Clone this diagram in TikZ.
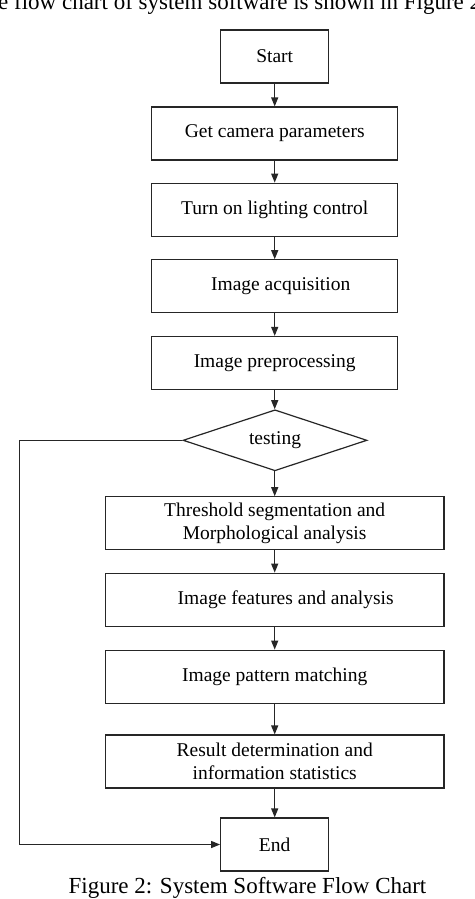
\documentclass[tikz,border=0pt]{standalone}
\usepackage{fontspec}
\setmainfont{Liberation Serif}
\usetikzlibrary{shapes.geometric,arrows.meta}
\newcommand{\boxfont}{\fontsize{19.5}{23}\selectfont}
\newcommand{\capfont}{\fontsize{23}{27}\selectfont}
\begin{document}
\begin{tikzpicture}[x=1pt,y=-1pt,
  box/.style={draw=black!85, line width=1.2pt, minimum height=53pt, inner sep=0pt, align=center, font=\boxfont, text=black},
  narrowbox/.style={box, minimum width=108pt},
  midbox/.style={box, minimum width=246pt},
  widebox/.style={box, minimum width=338.5pt},
  decision/.style={draw=black!85, line width=1.2pt, diamond, shape aspect=3, minimum width=184pt, minimum height=61pt, inner sep=0pt, font=\boxfont},
  arr/.style={-{Triangle[length=9pt,width=7pt]}, line width=1.2pt, draw=black!85},
  captext/.style={font=\capfont, inner sep=0pt, text=black}]
\useasboundingbox (0,0) rectangle (474,899);
\fill[white] (0,0) rectangle (474,899);
\begin{scope}
\clip (0,0) rectangle (474,899);
\node[captext, anchor=base west] (toptext) at (-2,9.5) {e flow chart of system software is shown in Figure 2};
\end{scope}
\node[narrowbox] (start) at (274.7,56.5) {Start};
\node[midbox] (get) at (274.7,133.5) {Get camera parameters};
\node[midbox] (turn) at (274.7,209.7) {Turn on lighting control};
\node[midbox] (acq) at (274.7,286.3) {\hspace*{12pt}Image acquisition};
\node[midbox] (pre) at (274.7,363) {Image preprocessing};
\node[decision] (test) at (275,440.3) {testing};
\node[widebox] (thr) at (274.7,523.3) {Threshold segmentation and\\Morphological analysis};
\node[widebox] (feat) at (274.7,599.7) {\hspace*{22pt}Image features and analysis};
\node[widebox] (pat) at (274.7,676.7) {Image pattern matching};
\node[widebox] (res) at (274.7,761.5) {Result determination and\\information statistics};
\node[narrowbox] (end) at (274.7,844.5) {End};
\node[captext, anchor=base] (cap) at (247.5,893) {Figure 2: System Software Flow Chart};
\coordinate (loopc) at (19.5,440.3);
\draw[arr] (start) -- (get);
\draw[arr] (get) -- (turn);
\draw[arr] (turn) -- (acq);
\draw[arr] (acq) -- (pre);
\draw[arr] (pre.south) -- (pre.south |- test.north);
\draw[arr] (test.south -| thr.north) -- (thr.north);
\draw[arr] (thr) -- (feat);
\draw[arr] (feat) -- (pat);
\draw[arr] (pat) -- (res);
\draw[arr] (res) -- (end);
\draw[arr] (test.west) -- (loopc) |- (end.west);
\end{tikzpicture}
\end{document}
